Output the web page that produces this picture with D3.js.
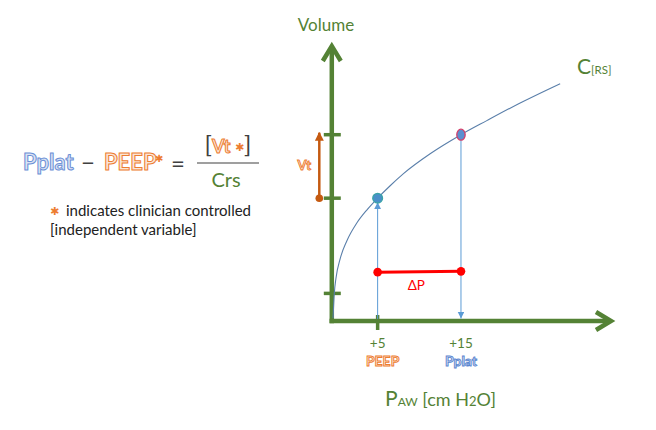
<!DOCTYPE html>
<html>
<head>
<meta charset="utf-8">
<script src="https://cdn.jsdelivr.net/npm/d3@7"></script>
<style>
  body { margin: 0; background: #fff; }
  text { font-family: Lato, "Open Sans", sans-serif; }
</style>
</head>
<body>
<svg id="chart"></svg>
<script>
const width = 656;
const height = 430;

// compliance curve (pressure cmH2O, volume arbitrary units)
const curvePressure = [-0.35, -0.2, 0, 0.5, 1.3, 2.5, 3.7, 5, 6.5, 8.1, 11.3, 15, 18.1, 22.1, 26.9];
const curveVolume = [1.0, 10.0, 15.5, 22.5, 29.0, 35.5, 40.2, 44.5, 49.0, 53.4, 60.6, 67.5, 72.6, 79.0, 86.0];

const pressureTicks = [5, 15];
const pressureTickLabels = ['+5', '+15'];
const pressureNames = ['PEEP', 'Pplat'];
const volumeTicks = [10, 44.5, 67.5];

const peepPoint = [5, 44.5];
const pplatPoint = [15, 67.5];
const deltaPVolume = 17.7;
const vtPressure = -2;

const green = '#548235';
const orange = '#ED7D31';
const blue = '#5B9BD5';
const ink = '#404040';

const x = d3.scaleLinear().domain([-0.5, 33]).range([331.8, 611]);
const y = d3.scaleLinear().domain([0, 100]).range([321, 45]);

const chart = d3.select('#chart').attr('width', width).attr('height', height);

const defs = chart.append('defs');
defs
  .append('marker')
  .attr('id', 'tri')
  .attr('viewBox', '0 0 10 10')
  .attr('refX', 10)
  .attr('refY', 5)
  .attr('markerWidth', 7)
  .attr('markerHeight', 7)
  .attr('markerUnits', 'userSpaceOnUse')
  .attr('orient', 'auto')
  .append('path')
  .attr('d', 'M0,0L10,5L0,10Z')
  .attr('fill', blue);
defs
  .append('marker')
  .attr('id', 'triOrange')
  .attr('viewBox', '0 0 10 10')
  .attr('refX', 9)
  .attr('refY', 5)
  .attr('markerWidth', 9)
  .attr('markerHeight', 9)
  .attr('markerUnits', 'userSpaceOnUse')
  .attr('orient', 'auto')
  .append('path')
  .attr('d', 'M0,0L10,5L0,10Z')
  .attr('fill', '#C55A11');

/* Axes */
const x0 = x.range()[0];
const y0 = y.range()[0];
const xEnd = x.range()[1];
const yEnd = y.range()[1];
const axisW = 4.5;

chart
  .append('line')
  .attr('x1', x0).attr('y1', y0 + axisW / 2)
  .attr('x2', x0).attr('y2', yEnd + 2)
  .attr('stroke', green).attr('stroke-width', axisW);
chart
  .append('path')
  .attr('d', `M${x0 - 9},${yEnd + 16}L${x0},${yEnd + 1}L${x0 + 9},${yEnd + 16}`)
  .attr('fill', 'none').attr('stroke', green).attr('stroke-width', axisW);

chart
  .append('line')
  .attr('x1', x0 - axisW / 2).attr('y1', y0)
  .attr('x2', xEnd - 2).attr('y2', y0)
  .attr('stroke', green).attr('stroke-width', axisW);
chart
  .append('path')
  .attr('d', `M${xEnd - 15},${y0 - 9}L${xEnd},${y0}L${xEnd - 15},${y0 + 9}`)
  .attr('fill', 'none').attr('stroke', green).attr('stroke-width', axisW);

// volume ticks
chart
  .selectAll('.vtick')
  .data(volumeTicks)
  .enter()
  .append('line')
  .attr('x1', x0 - 8).attr('x2', x0 + 9)
  .attr('y1', d => y(d)).attr('y2', d => y(d))
  .attr('stroke', green).attr('stroke-width', 3.5);

// pressure tick (PEEP only)
chart
  .append('line')
  .attr('x1', x(pressureTicks[0])).attr('x2', x(pressureTicks[0]))
  .attr('y1', y0 - 6).attr('y2', y0 + 9)
  .attr('stroke', green).attr('stroke-width', 3.5);

/* Guide lines */
chart
  .append('line')
  .attr('x1', x(peepPoint[0])).attr('y1', y0 - 2)
  .attr('x2', x(peepPoint[0])).attr('y2', y(peepPoint[1]) + 4)
  .attr('stroke', blue).attr('stroke-width', 1)
  .attr('marker-end', 'url(#tri)');
chart
  .append('line')
  .attr('x1', x(pplatPoint[0])).attr('y1', y(pplatPoint[1]) + 5)
  .attr('x2', x(pplatPoint[0])).attr('y2', y0 - 2.5)
  .attr('stroke', blue).attr('stroke-width', 1)
  .attr('marker-end', 'url(#tri)');

/* Curve */
const line = d3
  .line()
  .x(d => x(d[0]))
  .y(d => y(d[1]))
  .curve(d3.curveMonotoneX);
chart
  .append('path')
  .datum(curvePressure.map((p, i) => [p, curveVolume[i]]))
  .attr('d', line)
  .attr('fill', 'none')
  .attr('stroke', '#5A7FAA')
  .attr('stroke-width', 1.1);

/* Delta P */
chart
  .append('line')
  .attr('x1', x(peepPoint[0])).attr('x2', x(pplatPoint[0]))
  .attr('y1', y(deltaPVolume)).attr('y2', y(deltaPVolume) - 0.8)
  .attr('stroke', '#FF0000').attr('stroke-width', 3);
chart
  .selectAll('.dp')
  .data([peepPoint[0], pplatPoint[0]])
  .enter()
  .append('circle')
  .attr('cx', d => x(d))
  .attr('cy', (d, i) => y(deltaPVolume) - i * 0.8)
  .attr('r', 4.3)
  .attr('fill', '#FF0000');
chart
  .append('text')
  .attr('x', x((peepPoint[0] + pplatPoint[0]) / 2) - 3)
  .attr('y', y(deltaPVolume) + 18)
  .attr('text-anchor', 'middle')
  .attr('font-size', 13.5)
  .attr('fill', '#FF0000')
  .text('ΔP');

/* Points on curve */
chart
  .append('circle')
  .attr('cx', x(peepPoint[0])).attr('cy', y(peepPoint[1]))
  .attr('r', 4.8)
  .attr('fill', '#4A8FC9').attr('stroke', '#3AA2A8').attr('stroke-width', 1.5);
chart
  .append('ellipse')
  .attr('cx', x(pplatPoint[0])).attr('cy', y(pplatPoint[1]))
  .attr('rx', 4.2).attr('ry', 5.5)
  .attr('fill', '#5B8FD0').attr('stroke', '#D43F6A').attr('stroke-width', 1.3);

/* Vt arrow */
chart
  .append('line')
  .attr('x1', x(vtPressure)).attr('y1', y(peepPoint[1]))
  .attr('x2', x(vtPressure)).attr('y2', y(pplatPoint[1]) - 2)
  .attr('stroke', '#C55A11').attr('stroke-width', 2.5)
  .attr('marker-end', 'url(#triOrange)');
chart
  .append('circle')
  .attr('cx', x(vtPressure)).attr('cy', y(peepPoint[1]))
  .attr('r', 3.8)
  .attr('fill', '#C55A11');
chart
  .append('text')
  .attr('x', x(vtPressure) - 15)
  .attr('y', (y(peepPoint[1]) + y(pplatPoint[1])) / 2 + 4)
  .attr('text-anchor', 'middle')
  .attr('font-size', 13)
  .attr('font-weight', 'bold')
  .attr('fill', '#FBE5D6')
  .attr('stroke', orange)
  .attr('stroke-width', 0.9)
  .text('Vt');

/* Pressure labels */
chart
  .selectAll('.plab')
  .data(pressureTicks)
  .enter()
  .append('text')
  .attr('x', d => x(d))
  .attr('y', y0 + 27)
  .attr('text-anchor', 'middle')
  .attr('font-size', 13.5)
  .attr('fill', green)
  .text((d, i) => pressureTickLabels[i]);
chart
  .selectAll('.pname')
  .data(pressureTicks)
  .enter()
  .append('text')
  .attr('x', (d, i) => x(d) + (i === 0 ? 5 : 0))
  .attr('y', y0 + 45)
  .attr('text-anchor', 'middle')
  .attr('font-size', 14)
  .attr('font-weight', 'bold')
  .attr('fill', (d, i) => (i === 0 ? '#FBE5D6' : '#DAE3F3'))
  .attr('stroke', (d, i) => (i === 0 ? orange : '#5B86D0'))
  .attr('stroke-width', 0.9)
  .text((d, i) => pressureNames[i]);

/* Axis titles */
chart
  .append('text')
  .attr('x', x0 - 34).attr('y', 31)
  .attr('font-size', 17)
  .attr('fill', green)
  .text('Volume');

const paw = chart
  .append('text')
  .attr('x', 385).attr('y', 406)
  .attr('font-size', 21)
  .attr('fill', green);
paw.append('tspan').text('P');
paw.append('tspan').attr('font-size', 12).text('AW');
paw.append('tspan').attr('font-size', 18).text(' [cm H');
paw.append('tspan').attr('font-size', 13).text('2');
paw.append('tspan').attr('font-size', 18).text('O]');

const crs = chart
  .append('text')
  .attr('x', 577).attr('y', 74)
  .attr('font-size', 21)
  .attr('fill', green);
crs.append('tspan').text('C');
crs.append('tspan').attr('font-size', 11.5).text('[RS]');

/* Formula */
const formula = chart.append('g');
formula
  .append('text')
  .attr('x', 23).attr('y', 170)
  .attr('font-size', 22)
  .attr('font-weight', 'bold')
  .attr('fill', '#DAE3F3')
  .attr('stroke', '#6B8FD6')
  .attr('stroke-width', 1)
  .text('Pplat');
formula
  .append('text')
  .attr('x', 81).attr('y', 171)
  .attr('font-size', 24)
  .attr('font-family', 'DejaVu Sans')
  .attr('fill', ink)
  .text('−');
formula
  .append('text')
  .attr('x', 104).attr('y', 170)
  .attr('font-size', 22)
  .attr('font-weight', 'bold')
  .attr('fill', '#FBE5D6')
  .attr('stroke', orange)
  .attr('stroke-width', 1)
  .text('PEEP');
formula
  .append('text')
  .attr('x', 155).attr('y', 162)
  .attr('font-size', 10)
  .attr('font-family', 'DejaVu Sans')
  .attr('fill', orange)
  .text('✱');
formula
  .append('text')
  .attr('x', 171).attr('y', 172)
  .attr('font-size', 24)
  .attr('font-family', 'DejaVu Sans')
  .attr('fill', ink)
  .text('=');
formula
  .append('line')
  .attr('x1', 197).attr('x2', 259)
  .attr('y1', 163).attr('y2', 163)
  .attr('stroke', ink).attr('stroke-width', 1.2);
const num = formula
  .append('text')
  .attr('x', 228).attr('y', 153)
  .attr('text-anchor', 'middle')
  .attr('font-size', 24)
  .attr('fill', ink);
num.append('tspan').text('[');
num
  .append('tspan')
  .attr('font-size', 18)
  .attr('font-weight', 'bold')
  .attr('fill', '#FBE5D6')
  .attr('stroke', orange)
  .attr('stroke-width', 1)
  .text('Vt ');
num
  .append('tspan')
  .attr('font-size', 11)
  .attr('font-family', 'DejaVu Sans')
  .attr('fill', orange)
  .attr('dy', -2)
  .text('✱');
num.append('tspan').attr('dy', 2).text(']');
formula
  .append('text')
  .attr('x', 226).attr('y', 187)
  .attr('text-anchor', 'middle')
  .attr('font-size', 20)
  .attr('fill', green)
  .text('Crs');

const note = chart
  .append('text')
  .attr('x', 50).attr('y', 216)
  .attr('font-size', 15)
  .attr('fill', '#222');
note
  .append('tspan')
  .attr('font-family', 'DejaVu Sans')
  .attr('font-size', 11)
  .attr('fill', orange)
  .attr('dy', -1)
  .text('✱');
note.append('tspan').attr('x', 66).attr('dy', 1).text('indicates clinician controlled');
chart
  .append('text')
  .attr('x', 50).attr('y', 235)
  .attr('font-size', 15)
  .attr('fill', '#222')
  .text('[independent variable]');
</script>
</body>
</html>
